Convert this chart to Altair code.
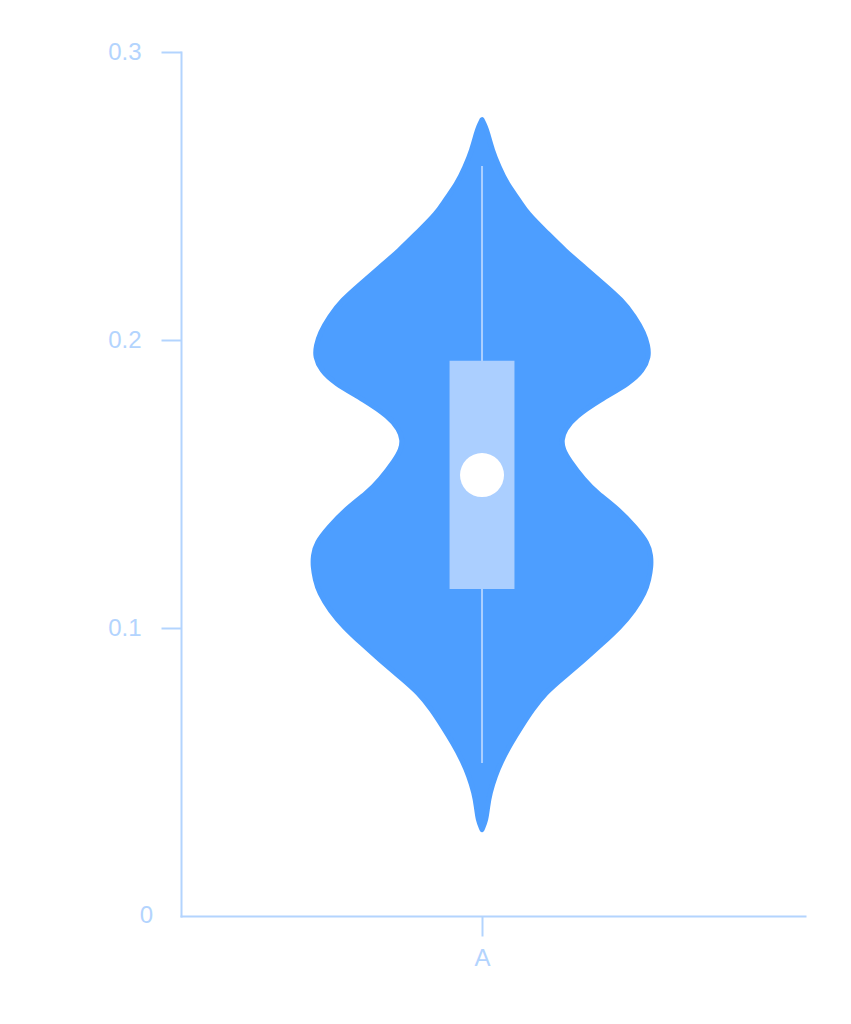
import altair as alt
import pandas as pd

# Violin outline: value (y) and half-width density (normalized, max = 1)
violin_values = [0.2765, 0.2740, 0.2719, 0.2660, 0.2601, 0.2540, 0.2486, 0.2441,
                 0.2372, 0.2310, 0.2253, 0.2196, 0.2139, 0.2080, 0.2024, 0.1980,
                 0.1941, 0.1895, 0.1851, 0.1792, 0.1733, 0.1690, 0.1653, 0.1620,
                 0.1583, 0.1514, 0.1469, 0.1410, 0.1351, 0.1295, 0.1250, 0.1212,
                 0.1170, 0.1122, 0.1060, 0.1003, 0.0945, 0.0889, 0.0830, 0.0774,
                 0.0715, 0.0656, 0.0600, 0.0542, 0.0485, 0.0427, 0.0380, 0.0333,
                 0.0300]
violin_density = [0.000, 0.021, 0.033, 0.060, 0.100, 0.150, 0.219, 0.266,
                  0.385, 0.491, 0.604, 0.716, 0.828, 0.905, 0.959, 0.982,
                  0.988, 0.953, 0.876, 0.698, 0.550, 0.491, 0.470, 0.479,
                  0.515, 0.604, 0.680, 0.811, 0.905, 0.982, 1.000, 1.000,
                  0.988, 0.964, 0.899, 0.817, 0.710, 0.604, 0.485, 0.373,
                  0.296, 0.231, 0.172, 0.118, 0.077, 0.047, 0.033, 0.024,
                  0.000]

category = "A"
q1, q3 = 0.1135, 0.1928
median = 0.1531
whisker_low, whisker_high = 0.0531, 0.2604
box_half = 0.192
y_ticks = [0.1, 0.2, 0.3]
zero_label = ["0"]

VIOLIN = "#4d9eff"
BOX = "#abcfff"
AXIS = "#b3d4fe"
FONT = "Liberation Sans"

violin_df = pd.DataFrame({"value": violin_values, "d": violin_density})
stats_df = pd.DataFrame({
    "cat": [category], "q1": [q1], "q3": [q3], "median": [median],
    "lo": [whisker_low], "hi": [whisker_high],
    "bx0": [-box_half], "bx1": [box_half], "c": [0.0],
})
zero_df = pd.DataFrame({"v": [0.0], "t": zero_label})

xscale = alt.Scale(domain=[-1.781, 1.911], nice=False, zero=False)
yscale = alt.Scale(domain=[0, 0.3], nice=False)

xaxis = alt.Axis(values=[0], labelExpr="'" + category + "'", title=None, grid=False,
                 tickSize=20, labelPadding=10, domainColor=AXIS, tickColor=AXIS,
                 labelColor=AXIS, labelFontSize=24, labelFont=FONT,
                 labelFontWeight="normal", domainWidth=2, tickWidth=2)
yaxis = alt.Axis(values=y_ticks, format="~g", title=None, grid=False,
                 tickSize=20, labelPadding=20, domainColor=AXIS, tickColor=AXIS,
                 labelColor=AXIS, labelFontSize=24, labelFont=FONT,
                 labelFontWeight="normal", domainWidth=2, tickWidth=2)

violin = alt.Chart(violin_df).transform_calculate(
    neg="-datum.d"
).mark_area(orient="horizontal", interpolate="basis", color=VIOLIN,
            stroke=VIOLIN, strokeWidth=5, strokeJoin="round").encode(
    y=alt.Y("value:Q", scale=yscale, axis=yaxis),
    x=alt.X("neg:Q", scale=xscale, axis=xaxis),
    x2="d:Q",
)

whisker = alt.Chart(stats_df).mark_rule(color=BOX, strokeWidth=2).encode(
    x=alt.X("c:Q", scale=xscale),
    y=alt.Y("lo:Q", scale=yscale),
    y2="hi:Q",
)

box = alt.Chart(stats_df).mark_rect(color=BOX).encode(
    x=alt.X("bx0:Q", scale=xscale),
    x2="bx1:Q",
    y=alt.Y("q1:Q", scale=yscale),
    y2="q3:Q",
)

med = alt.Chart(stats_df).mark_point(filled=True, color="white", opacity=1,
                                      size=1936).encode(
    x=alt.X("c:Q", scale=xscale),
    y=alt.Y("median:Q", scale=yscale),
)

zero_text = alt.Chart(zero_df).mark_text(align="right", baseline="middle",
                                         fontSize=24, font=FONT, color=AXIS,
                                         dx=-28).encode(
    x=alt.value(0),
    y=alt.Y("v:Q", scale=yscale),
    text="t:N",
)

chart = alt.layer(violin, whisker, box, med, zero_text).properties(
    width=624, height=864,
    autosize=alt.AutoSizeParams(type="none"),
    padding={"left": 173, "top": 44, "right": 30, "bottom": 90},
).configure_view(stroke=None).configure_axis(domainCap="square")

chart.save("out.html", embed_options={"renderer": "svg", "actions": False})
